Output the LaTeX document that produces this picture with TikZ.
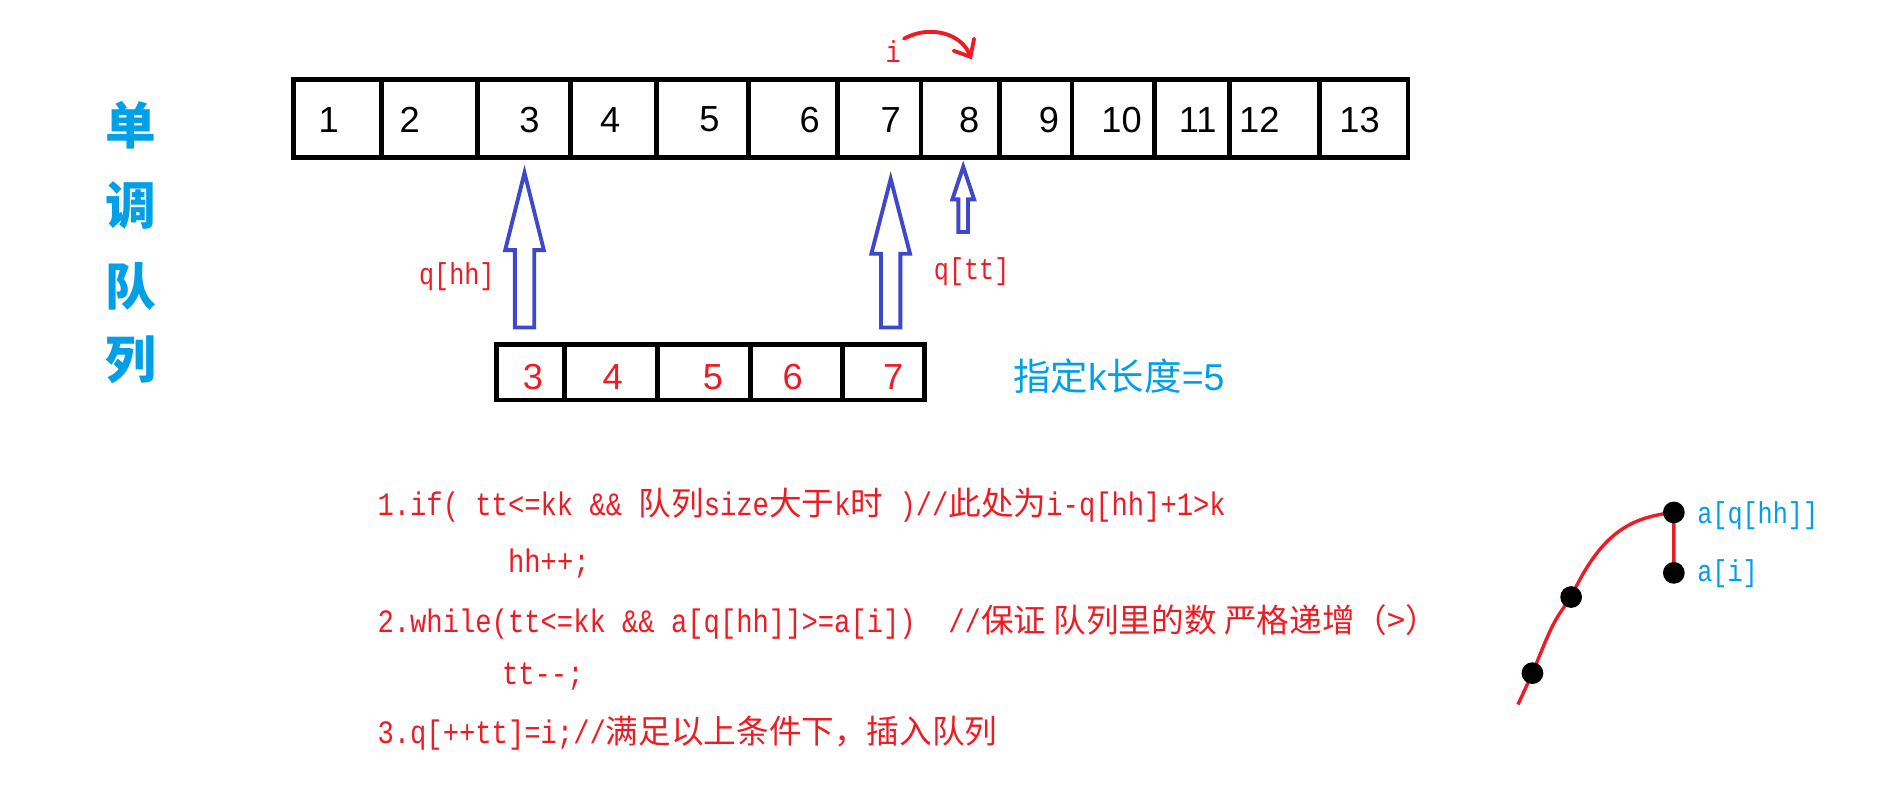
\documentclass[tikz,border=0pt]{standalone}
\usepackage{fontspec}
\setmainfont{Liberation Sans}
\newfontfamily\cjk{Noto Sans CJK SC}
\newfontfamily\codefont[FakeStretch=0.833]{Liberation Mono}
\newcommand{\cj}[1]{{\cjk #1}}
\definecolor{qblue}{RGB}{0,160,233}
\definecolor{ablue}{RGB}{63,72,204}
\definecolor{cred}{RGB}{237,28,36}
\begin{document}
\begin{tikzpicture}[x=0.5pt,y=-0.5pt,
  cell/.style={draw=black,line width=2pt},
  num/.style={font=\fontsize{15}{15}\selectfont,inner sep=0pt},
  rnum/.style={num,text=cred},
  code/.style={anchor=west,inner sep=0pt,text=cred,font=\codefont\fontsize{13.5}{14}\selectfont},
  lab/.style={inner sep=0pt,text=cred,font=\codefont\fontsize{12.5}{13}\selectfont},
  blab/.style={anchor=west,inner sep=0pt,text=qblue,font=\codefont\fontsize{12.5}{13}\selectfont},
  blk/.style={draw=ablue,line width=1.6pt,line join=miter},
  dot/.style={circle,fill=black,inner sep=0pt,minimum size=9pt}]
\useasboundingbox (0,0) rectangle (1568,652);
% top array
\draw[cell] (243,66) rectangle (1165,130);
\foreach \x in {316,395,472,543,619,693,762,827,887,955,1017,1092}
  \draw[cell] (\x,66) -- (\x,130);
\foreach \x/\n [count=\k] in {272/1,339/2,438/3,505/4,587/5,670/6,737/7,802/8,868/9,928/10,991/11,1042/12,1125/13}
  \node[num] (t\k) at (\x,99) {\n};
% bottom array
\draw[cell] (411,285) rectangle (765,331);
\foreach \x in {467,544,621,697}
  \draw[cell] (\x,285) -- (\x,331);
\foreach \x/\n [count=\k] in {441/3,507/4,590/5,656/6,739/7}
  \node[rnum] (b\k) at (\x,312) {\n};
% block arrows
\draw[blk] (434,143) -- (450,207) -- (442,207) -- (442,271) -- (426,271) -- (426,207) -- (418,207) -- cycle;
\draw[blk] (737,148) -- (753,210) -- (745,210) -- (745,271) -- (729,271) -- (729,210) -- (721,210) -- cycle;
\draw[blk] (797,138) -- (806,165) -- (801,165) -- (801,192) -- (793,192) -- (793,165) -- (788,165) -- cycle;
\node[lab] (qhh) at (378,229) {q[hh]};
\node[lab] (qtt) at (804,225) {q[tt]};
\node[lab] (ii) at (739,43) {i};
% red curved arrow
\coordinate (ca) at (748,32);
\coordinate (cb) at (803,47);
\draw[cred,line width=1.6pt,line cap=round] (ca) .. controls (770,20) and (797,28) .. (cb);
\draw[cred,line width=1.6pt,line cap=round] (789,42) -- (cb) -- (806,32);
% left title
\foreach \y/\c [count=\k] in {104/单,170/调,237/队,298/列}
  \node[inner sep=0pt,text=qblue,font=\cjk\bfseries\fontsize{21}{21}\selectfont] (h\k) at (108,\y) {\c};
\node[anchor=west,inner sep=0pt,text=qblue,font=\fontsize{15.5}{15.5}\selectfont] (kk) at (838,311) {\cj{指定}k\cj{长度}=5};
% code
\node[code] (l1) at (312,418) {1.if( tt<=kk \&\& \cj{队列}size\cj{大于}k\cj{时} )//\cj{此处为}i-q[hh]+1>k};
\node[code] (l2) at (420,466) {hh++;};
\node[code] (l3) at (312,515) {2.while(tt<=kk \&\& a[q[hh]]>=a[i])~~//\cj{保证 队列里的数 严格递增（>）}};
\node[code] (l4) at (415,560) {tt--;};
\node[code] (l5) at (312,607) {3.q[++tt]=i;//\cj{满足以上条件下，插入队列}};
% right curve
\coordinate (cs) at (1256,583);
\coordinate (p1) at (1268,557);
\coordinate (p2) at (1300,494);
\coordinate (p3) at (1385,424);
\coordinate (p4) at (1385,474);
\draw[cred,line width=1.4pt] (cs) -- (p1) .. controls (1285,515) .. (p2) .. controls (1325,440) and (1350,428) .. (p3) -- (p4);
\node[dot] (d1) at (p1) {};
\node[dot] (d2) at (p2) {};
\node[dot] (d3) at (p3) {};
\node[dot] (d4) at (p4) {};
\node[blab] (aq) at (1404,427) {a[q[hh]]};
\node[blab] (ai) at (1404,475) {a[i]};
\end{tikzpicture}
\end{document}
